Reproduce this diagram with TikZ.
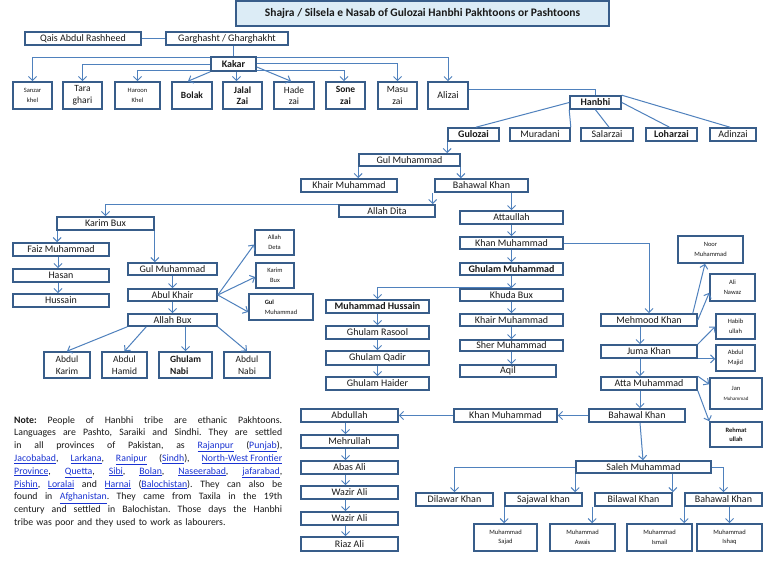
\documentclass[tikz,border=0pt]{standalone}
\usepackage{fontspec}
\setmainfont{Carlito}
\usetikzlibrary{arrows.meta,calc}
\definecolor{bord}{RGB}{56,93,138}
\definecolor{conn}{RGB}{79,129,189}
\definecolor{tfill}{RGB}{220,236,246}
\definecolor{txt}{RGB}{25,25,25}
\definecolor{link}{RGB}{25,50,210}
\newcommand{\lk}[1]{\textcolor{link}{\underline{#1}}}
\newcommand{\nl}[1]{\hbox to 268pt{\frenchspacing\spaceskip=0pt\xspaceskip=0pt #1}}
\newcommand{\bx}[7][]{\node[box,#1,minimum width={#5-#3},minimum height={#6-#4}] (#2) at ({(#3+#5)/2},{(#4+#6)/2}) {#7};}
\tikzset{
 box/.style={draw=bord, line width=1.6pt, fill=white, inner sep=0.5pt, text=txt, align=center, font=\fontsize{10}{11}\selectfont},
 sm/.style={font=\fontsize{6.5}{9.5}\selectfont},
 md/.style={font=\fontsize{9.5}{11.5}\selectfont},
 mdb/.style={font=\fontsize{9.5}{11.5}\selectfont\bfseries},
 bf/.style={font=\fontsize{10}{11}\selectfont\bfseries},
 tt/.style={font=\fontsize{11.5}{13}\selectfont\bfseries, fill=tfill, line width=1.8pt},
 ln/.style={draw=conn, line width=1pt},
 ar/.style={ln, -{Straight Barb[length=4pt,width=8pt]}},
}
\begin{document}
\begin{tikzpicture}[x=1pt,y=-1pt]
\useasboundingbox (0,0) rectangle (768,576);
\fill[white] (0,0) rectangle (768,576);
% boxes
\bx[tt]{title}{236}{1}{609}{26}{Shajra / Silsela e Nasab of Gulozai Hanbhi Pakhtoons or Pashtoons}
\bx{qais}{25}{32}{141}{45}{Qais Abdul Rashheed}
\bx{garg}{166}{32}{288}{45}{Garghasht / Gharghakht}
\bx[bf]{kakar}{211}{57}{256}{71}{Kakar}
\bx[sm]{sanzar}{13}{82}{52}{109}{Sanzar\\khel}
\bx[md]{tara}{63}{82}{102}{109}{Tara\\ghari}
\bx[sm]{haroon}{115}{82}{160}{109}{Haroon\\Khel}
\bx[mdb]{bolak}{172}{82}{212}{109}{Bolak}
\bx[mdb]{jalal}{223}{82}{262}{109}{Jalal\\Zai}
\bx[md]{hade}{274}{82}{314}{109}{Hade\\zai}
\bx[mdb]{sone}{326}{82}{365}{109}{Sone\\zai}
\bx[md]{masu}{378}{82}{417}{109}{Masu\\zai}
\bx{alizai}{428}{82}{468}{109}{Alizai}
\bx[bf]{hanbhi}{570}{96}{621}{109}{Hanbhi}
\bx[bf]{gulozai}{448}{128}{499}{141}{Gulozai}
\bx{muradani}{510}{128}{570}{141}{Muradani}
\bx{salarzai}{581}{128}{633}{141}{Salarzai}
\bx[bf]{loharzai}{646}{128}{697}{141}{Loharzai}
\bx{adinzai}{710}{128}{756}{141}{Adinzai}
\bx{gulm1}{359}{154}{460}{166}{Gul Muhammad}
\bx{khairm1}{301}{179}{397}{192}{Khair Muhammad}
\bx{bahawal1}{435}{179}{528}{192}{Bahawal Khan}
\bx{allahdita}{339}{205}{435}{217}{Allah Dita}
\bx{attaullah}{460}{211}{563}{224}{Attaullah}
\bx{khanm1}{460}{237}{563}{249}{Khan Muhammad}
\bx[bf]{ghulamm}{460}{263}{563}{275}{Ghulam Muhammad}
\bx{khudabux}{460}{289}{563}{301}{Khuda Bux}
\bx{khairm2}{460}{314}{563}{326}{Khair Muhammad}
\bx{sherm}{460}{340}{563}{351}{Sher Muhammad}
\bx{aqil}{460}{365}{556}{377}{Aqil}
\bx[bf]{mhussain}{326}{300}{429}{313}{Muhammad Hussain}
\bx{grasool}{326}{326}{429}{339}{Ghulam Rasool}
\bx{gqadir}{326}{351}{429}{365}{Ghulam Qadir}
\bx{ghaider}{326}{377}{429}{390}{Ghulam Haider}
\bx{mehmood}{601}{314}{697}{326}{Mehmood Khan}
\bx{juma}{601}{345}{697}{358}{Juma Khan}
\bx{atta}{601}{377}{697}{390}{Atta Muhammad}
\bx[sm]{noor}{678}{236}{743}{263}{Noor\\Muhammad}
\bx[sm]{alinawaz}{710}{274}{755}{301}{Ali\\Nawaz}
\bx[sm]{habib}{716}{314}{755}{339}{Habib\\ullah}
\bx[sm]{majid}{716}{345}{755}{371}{Abdul\\Majid}
\bx[sm]{jan}{710}{378}{762}{409}{Jan\\{\fontsize{5}{6}\selectfont Muhammad}}
\bx[sm]{rehmat}{710}{422}{762}{447}{\textbf{Rehmat}\\\textbf{ullah}}
\bx{bahawal2}{589}{409}{685}{422}{Bahawal Khan}
\bx{khanm2}{454}{409}{557}{422}{Khan Muhammad}
\bx{abdullah}{301}{409}{398}{422}{Abdullah}
\bx{mehrullah}{301}{435}{398}{448}{Mehrullah}
\bx{abas}{301}{461}{398}{474}{Abas Ali}
\bx{wazir1}{301}{486}{398}{499}{Wazir Ali}
\bx{wazir2}{301}{512}{398}{525}{Wazir Ali}
\bx{riaz}{301}{537}{398}{551}{Riaz Ali}
\bx{saleh}{576}{461}{711}{473}{Saleh Muhammad}
\bx{dilawar}{416}{493}{493}{506}{Dilawar Khan}
\bx{sajawal}{505}{493}{582}{506}{Sajawal khan}
\bx{bilawal}{595}{493}{672}{506}{Bilawal Khan}
\bx{bahawal3}{685}{493}{762}{506}{Bahawal Khan}
\bx[sm]{sajad}{474}{524}{537}{551}{Muhammad\\Sajad}
\bx[sm]{awais}{550}{524}{615}{551}{Muhammad\\Awais}
\bx[sm]{ismail}{627}{524}{692}{551}{Muhammad\\Ismail}
\bx[sm]{ishaq}{697}{524}{762}{551}{Muhammad\\Ishaq}
\bx{karimbux}{57}{217}{154}{230}{Karim Bux}
\bx{faiz}{13}{243}{109}{256}{Faiz Muhammad}
\bx{hasan}{13}{269}{109}{282}{Hasan}
\bx{hussain}{13}{294}{109}{307}{Hussain}
\bx{gulm2}{128}{263}{217}{275}{Gul Muhammad}
\bx{abulkhair}{128}{289}{217}{301}{Abul Khair}
\bx{allahbux}{128}{314}{217}{326}{Allah Bux}
\bx[md]{akarim}{44}{352}{90}{378}{Abdul\\Karim}
\bx[md]{ahamid}{102}{352}{147}{378}{Abdul\\Hamid}
\bx[mdb,align=left]{gnabi}{159}{352}{212}{378}{Ghulam\\Nabi}
\bx[md]{anabi}{224}{352}{270}{378}{Abdul\\Nabi}
\bx[sm]{sdeta}{255}{230}{294}{255}{Allah\\Deta}
\bx[sm]{skarim}{256}{263}{294}{288}{Karim\\Bux}
\bx[sm,align=left]{sgul}{249}{294}{313}{320}{\textbf{Gul}\\Muhammad}
% connectors
\draw[ln] (qais) -- (garg);
\draw[ln] (kakar.north) -- (kakar.north |- garg.south);
\draw[ar] ($(kakar.north west)+(0,1)$) -| (sanzar.north);
\draw[ar] (kakar.west) -| (tara.north);
\draw[ar] ($(kakar.south west)+(0,-1)$) -| (haroon.north);
\draw[ar] (kakar.south west) -- ([xshift=-4pt]bolak.north);
\draw[ar] ([xshift=3pt]kakar.south) -- ([xshift=3pt]kakar.south |- jalal.north);
\draw[ar] ($(kakar.east)+(0,3)$) -- ([xshift=-3pt]hade.north);
\draw[ar] ($(kakar.south east)+(0,-1)$) -| ([xshift=-1.5pt]sone.north);
\draw[ar] ($(kakar.east)+(0,-1)$) -| (masu.north);
\draw[ar] ($(kakar.north east)+(0,1)$) -| (alizai.north);
\draw[ln] ($(alizai.east)+(0,-6.5)$) -| (hanbhi.north);
\draw[ln] (hanbhi.west) -- ([xshift=2.5pt]gulozai.north);
\draw[ln] (hanbhi.south west) -- (muradani.north east);
\draw[ln] (hanbhi.south) -- ([xshift=2pt]salarzai.north);
\draw[ln] (hanbhi.east) -- ([xshift=-2pt]loharzai.north);
\draw[ln] (hanbhi.north east) -- ([xshift=-3pt]adinzai.north);
\draw[ar] (gulozai.south west) -- (gulozai.south west |- gulm1.north);
\draw[ar] (gulm1.south west) -- (gulm1.south west |- khairm1.north);
\draw[ar] (gulm1.south east) -- (gulm1.south east |- bahawal1.north);
\draw[ar] ([xshift=-1.5pt]bahawal1.south west) -- ([xshift=-1.5pt]bahawal1.south west |- allahdita.north);
\draw[ar] (allahdita.north west) -| (karimbux.north);
\draw[ar] (attaullah.north |- bahawal1.south) -- (attaullah.north);
\draw[ar] (attaullah) -- (khanm1);
\draw[ar] (khanm1) -- (ghulamm);
\draw[ar] (ghulamm) -- (khudabux);
\draw[ar] (khudabux) -- (khairm2);
\draw[ar] (khairm2) -- (sherm);
\draw[ar] (sherm.south) -- (sherm.south |- aqil.north);
\draw[ar] (ghulamm.south) -- ($(khudabux.north)+(0,-1)$) -| (mhussain.north);
\draw[ar] (mhussain) -- (grasool);
\draw[ar] (grasool) -- (gqadir);
\draw[ar] (gqadir) -- (ghaider);
\draw[ar] (khanm1.east) -| (mehmood.north);
\draw[ar] ([xshift=-9pt]mehmood.south) -- ([xshift=-9pt]mehmood.south |- juma.north);
\draw[ar] ([xshift=-9pt]juma.south) -- ([xshift=-9pt]juma.south |- atta.north);
\draw[ar] ([xshift=-5pt]mehmood.north east) -- ([xshift=-5.5pt]noor.south);
\draw[ar] (mehmood.east) -- ($(alinawaz.south west)+(0,-9)$);
\draw[ar] (juma.north east) -- (habib.west);
\draw[ar] (juma.south east) -- (juma.south east -| majid.west);
\draw[ar] (atta.north east) -- ($(jan.north west)+(0,7)$);
\draw[ar] (atta.south east) -- (rehmat.north west);
\draw[ar] ([xshift=-9pt]atta.south) -- ([xshift=-9pt]atta.south |- bahawal2.north);
\draw[ar] (bahawal2) -- (khanm2);
\draw[ar] (khanm2) -- (abdullah);
\draw[ar] ([xshift=-4pt]abdullah.south) -- ([xshift=-4pt]abdullah.south |- mehrullah.north);
\draw[ar] ([xshift=-4pt]mehrullah.south) -- ([xshift=-4pt]mehrullah.south |- abas.north);
\draw[ar] ([xshift=-4pt]abas.south) -- ([xshift=-4pt]abas.south |- wazir1.north);
\draw[ar] ([xshift=-4pt]wazir1.south) -- ([xshift=-4pt]wazir1.south |- wazir2.north);
\draw[ar] ([xshift=-4pt]wazir2.south) -- ([xshift=-4pt]wazir2.south |- riaz.north);
\draw[ar] ([xshift=3pt]bahawal2.south) -- ([xshift=-0.5pt]saleh.north);
\draw[ar] (saleh.west) -| (dilawar.north);
\draw[ar] (saleh.south west) -- (saleh.south west |- sajawal.north);
\draw[ar] (bilawal.north east |- saleh.south) -- (bilawal.north east);
\draw[ar] (saleh.east) -| (bahawal3.north);
\draw[ar] (sajawal.south west) -- (sajawal.south west |- sajad.north);
\draw[ar] ([xshift=-2pt]bilawal.south west) -- ([xshift=-2pt]bilawal.south west |- awais.north);
\draw[ar] (bahawal3.south west) -- (bahawal3.south west |- ismail.north);
\draw[ar] (ishaq.north |- bahawal3.south) -- (ishaq.north);
\draw[ar] ([xshift=1pt]karimbux.south west) -- ([xshift=1pt]karimbux.south west |- faiz.north);
\draw[ar] ([xshift=-3pt]faiz.south) -- ([xshift=-3pt]faiz.south |- hasan.north);
\draw[ar] ([xshift=-3pt]hasan.south) -- ([xshift=-3pt]hasan.south |- hussain.north);
\draw[ar] (karimbux.south east) -- (karimbux.south east |- gulm2.north);
\draw[ar] (gulm2) -- (abulkhair);
\draw[ar] (abulkhair) -- (allahbux);
\draw[ar] (allahbux.south west) -- (akarim.north);
\draw[ar] ($(allahbux.south west)+(19,0)$) -- (ahamid.north);
\draw[ar] (gnabi.north |- allahbux.south) -- (gnabi.north);
\draw[ar] (allahbux.south east) -- (anabi.north);
\draw[ar] (abulkhair.east) -- ($(sdeta.west)+(0,2)$);
\draw[ar] (abulkhair.east) -- ($(skarim.west)+(0,1.5)$);
\draw[ar] (abulkhair.east) -- ($(sgul.west)+(0,5)$);
% note
\node[anchor=north west, inner sep=0pt, text width=268pt, text=txt, font=\fontsize{9.8}{12.8}\selectfont] (note) at (14,416) {%
\nl{\textbf{Note:} People of Hanbhi tribe are ethanic Pakhtoons.}
\nl{Languages are Pashto, Saraiki and Sindhi. They are settled}
\nl{in all provinces of Pakistan, as \lk{Rajanpur} (\lk{Punjab}),}
\nl{\lk{Jacobabad}, \lk{Larkana}, \lk{Ranipur} (\lk{Sindh}), \lk{North-West Frontier}}
\nl{\lk{Province}, \lk{Quetta}, \lk{Sibi}, \lk{Bolan}, \lk{Naseerabad}, \lk{jafarabad},}
\nl{\lk{Pishin}, \lk{Loralai} and \lk{Harnai} (\lk{Balochistan}). They can also be}
\nl{found in \lk{Afghanistan}. They came from Taxila in the 19th}
\nl{century and settled in Balochistan. Those days the Hanbhi}
\hbox{tribe was poor and they used to work as labourers.}};
\end{tikzpicture}
\end{document}
